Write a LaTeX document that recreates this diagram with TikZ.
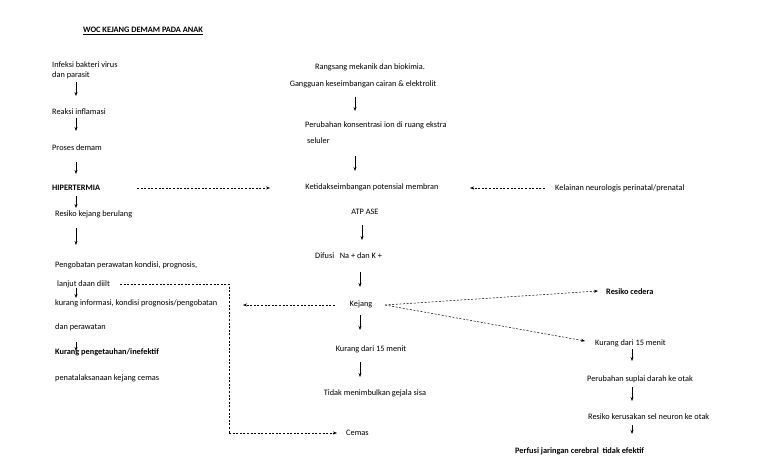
\documentclass[tikz,border=0pt]{standalone}
\usepackage{fontspec}
\setmainfont{Carlito}
\usetikzlibrary{arrows.meta}
\begin{document}
\begin{tikzpicture}[x=1pt,y=-1pt,
  t/.style={anchor=west,inner sep=0pt,font=\fontsize{8.3}{9}\selectfont},
  c/.style={anchor=center,inner sep=0pt,font=\fontsize{8.3}{9}\selectfont},
  b/.style={font=\fontsize{8.3}{9}\selectfont\bfseries},
  arr/.style={-{Stealth[length=4pt,width=3pt]},line width=0.6pt},
  dsh/.style={dashed,dash pattern=on 2pt off 1.6pt,line width=0.5pt},
  darr/.style={dsh,-{Stealth[length=4pt,width=3pt]}}]
\useasboundingbox (0,0) rectangle (768,466);
% title
\node[t,b] (title) at (83,31) {\underline{WOC KEJANG DEMAM PADA ANAK}};
% left column
\node[t] (inf1) at (52,65) {Infeksi bakteri virus};
\node[t] (inf2) at (52,75) {dan parasit};
\node[t] (rea) at (52,112) {Reaksi inflamasi};
\node[t] (pro) at (52,148) {Proses demam};
\node[t,b] (hip) at (52,188) {HIPERTERMIA};
\node[t] (res) at (55,214) {Resiko kejang berulang};
\node[t] (pen1) at (55,265) {Pengobatan perawatan kondisi, prognosis,};
\node[t] (pen2) at (57,284) {lanjut daan diilt};
\node[t] (kur1) at (55,303) {kurang informasi, kondisi prognosis/pengobatan};
\node[t] (kur2) at (55,327) {dan perawatan};
\node[t,b] (kp) at (55,352) {Kurang pengetauhan/inefektif};
\node[t] (pnt) at (55,378) {penatalaksanaan kejang cemas};
\coordinate (a1s) at (76,82); \coordinate (a1e) at (76,96);
\coordinate (a2s) at (76,118); \coordinate (a2e) at (76,131);
\coordinate (a3s) at (76,162); \coordinate (a3e) at (76,174);
\coordinate (a4s) at (76,196); \coordinate (a4e) at (76,208);
\coordinate (a5s) at (76,228); \coordinate (a5e) at (76,245);
\coordinate (a6s) at (76,288); \coordinate (a6e) at (76,298);
\coordinate (a7s) at (76,342); \coordinate (a7e) at (76,351);
\foreach \i in {1,...,7} {\draw[arr] (a\i s) -- (a\i e);}
% center column
\node[c] (ran) at (370,67) {Rangsang mekanik dan biokimia.};
\node[c] (gan) at (363,84) {Gangguan keseimbangan cairan \& elektrolit};
\node[t] (per1) at (305,125) {Perubahan konsentrasi ion di ruang ekstra};
\node[t] (per2) at (307,141) {seluler};
\node[c] (ket) at (372,187) {Ketidakseimbangan potensial membran};
\node[c] (atp) at (365,212) {ATP ASE};
\node[t] (dif) at (315,256) {Difusi\ \ \ Na + dan K +};
\node[c] (kej) at (361,304) {Kejang};
\node[c] (k15) at (371,349) {Kurang dari 15 menit};
\node[c] (tid) at (375,393) {Tidak menimbulkan gejala sisa};
\node[t] (cem) at (346,433) {Cemas};
\coordinate (b1s) at (355,97); \coordinate (b1e) at (355,111);
\coordinate (b2s) at (355,156); \coordinate (b2e) at (355,171);
\coordinate (b3s) at (362,225); \coordinate (b3e) at (362,240);
\coordinate (b4s) at (360,272); \coordinate (b4e) at (360,287);
\coordinate (b5s) at (360,315); \coordinate (b5e) at (360,330);
\coordinate (b6s) at (360,362); \coordinate (b6e) at (360,377);
\foreach \i in {1,...,6} {\draw[arr] (b\i s) -- (b\i e);}
% right column
\node[t] (kel) at (555,188) {Kelainan neurologis perinatal/prenatal};
\node[t,b] (ced) at (606,292) {Resiko cedera};
\node[t] (rk15) at (595,343) {Kurang dari 15 menit};
\node[t] (sup) at (587,379) {Perubahan suplai darah ke otak};
\node[t] (neu) at (588,417) {Resiko kerusakan sel neuron ke otak};
\node[t,b] (prf) at (515,451) {Perfusi jaringan cerebral\ \ tidak efektif};
\coordinate (c1s) at (632,349); \coordinate (c1e) at (632,361);
\coordinate (c2s) at (632,387); \coordinate (c2e) at (632,401);
\coordinate (c3s) at (632,425); \coordinate (c3e) at (632,434);
\foreach \i in {1,...,3} {\draw[arr] (c\i s) -- (c\i e);}
% dashed connectors
\draw[darr] (137,188) -- (270,188);
\draw[darr] (545,188) -- (470,188);
\draw[darr] (335,305) -- (243,305);
\draw[darr] (385,305) -- (598,291);
\draw[darr] (385,305) -- (585,341);
\draw[dsh] (120,284) -- (229,284) -- (229,433);
\draw[darr] (229,433) -- (337,433);
\end{tikzpicture}
\end{document}
